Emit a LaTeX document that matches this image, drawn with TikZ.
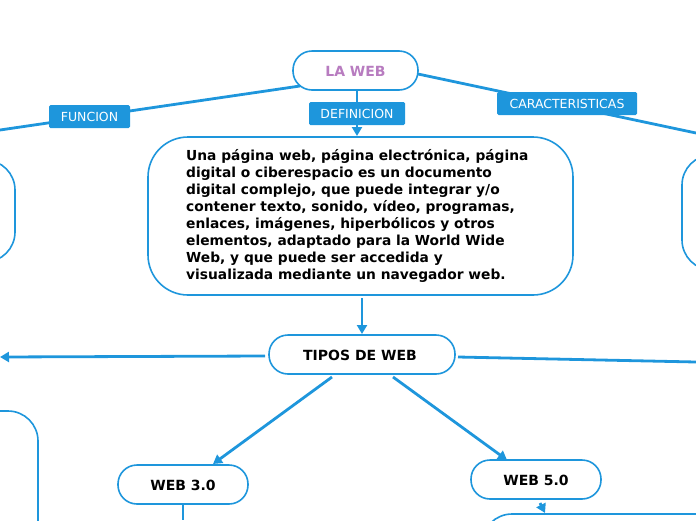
\documentclass[tikz,border=0pt]{standalone}
\usepackage{fontspec}
\setmainfont{DejaVu Sans}
\usetikzlibrary{arrows.meta}
\definecolor{bl}{HTML}{1E96DC}
\definecolor{pur}{HTML}{B87CC0}
\begin{document}
\begin{tikzpicture}[x=1pt,y=-1pt,
 box/.style={draw=bl,line width=1.6pt,fill=white,rounded corners=#1},
 lab/.style={fill=bl,text=white,font=\fontsize{12.5}{14}\selectfont,inner sep=0pt,rounded corners=1.5pt,anchor=center},
 con/.style={draw=bl,line width=2.8pt},
 arr/.style={con,-{Triangle[length=9pt,width=10pt]}}]
\useasboundingbox (0,0) rectangle (696,520);
% connectors
\coordinate (fl) at (0,130);
\coordinate (cr) at (696,133);
\coordinate (tl) at (0,357);
\coordinate (tr) at (696,362);
\draw[con] (fl) -- (300,86);
\draw[con] (418,74) -- (cr);
\draw[arr] (357,91) -- (357,136);
\draw[arr] (362,298) -- (362,334);
\draw[arr] (265,356) -- (tl);
\draw[con] (458,357) -- (tr);
\draw[arr] (332,377) -- (213,464);
\draw[arr] (393,377) -- (507,460);
\draw[con] (183,505) -- (183,520);
\draw[arr] (540,503) -- (545,513);
% nodes
\draw[box=19pt] (293,51) rectangle (418,90);
\node[text=pur,font=\bfseries\fontsize{14}{16}\selectfont] (web) at (355.5,71) {LA WEB};
\node[lab,minimum width=96pt,minimum height=23pt] (def) at (357,113.5) {DEFINICION};
\node[lab,minimum width=81pt,minimum height=23pt] (fun) at (89.5,116.5) {FUNCION};
\node[lab,minimum width=140pt,minimum height=23pt] (car) at (567,103.5) {CARACTERISTICAS};
\draw[box=40pt] (148,137) rectangle (573,295);
\node[anchor=north west,align=left,inner sep=0pt,font=\bfseries\fontsize{13.8}{17}\selectfont] (def2) at (186,149) {Una página web, página electrónica, página\\digital o ciberespacio es un documento\\digital complejo, que puede integrar y/o\\contener texto, sonido, vídeo, programas,\\enlaces, imágenes, hiperbólicos y otros\\elementos, adaptado para la World Wide\\Web, y que puede ser accedida y\\visualizada mediante un navegador web.};
\draw[box=30pt] (-40,160) rectangle (15,262);
\draw[box=30pt] (682,155) rectangle (740,270);
\draw[box=19pt] (269,335) rectangle (455,374);
\node[font=\bfseries\fontsize{14}{16}\selectfont] (tip) at (360,355) {TIPOS DE WEB};
\draw[box=19pt] (118,465) rectangle (248,504);
\node[font=\bfseries\fontsize{14}{16}\selectfont] (w3) at (183,485) {WEB 3.0};
\draw[box=19pt] (471,460) rectangle (601,499);
\node[font=\bfseries\fontsize{14}{16}\selectfont] (w5) at (536,480) {WEB 5.0};
\draw[box=30pt] (-40,411) rectangle (38,560);
\draw[box=30pt] (482,514) rectangle (740,580);
\end{tikzpicture}
\end{document}
